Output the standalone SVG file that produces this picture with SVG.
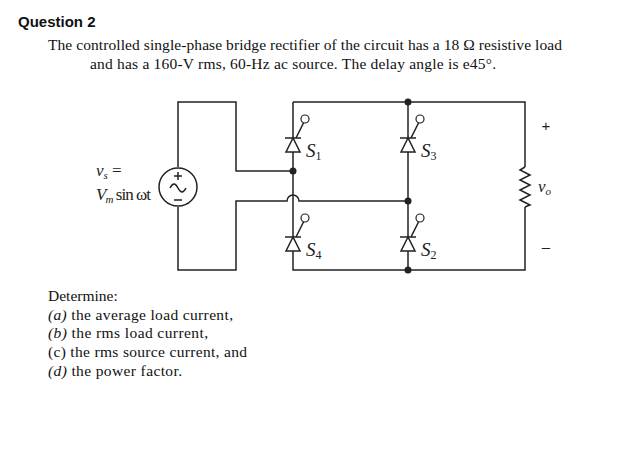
<svg xmlns="http://www.w3.org/2000/svg" width="643" height="464" viewBox="0 0 643 464">
<style>
.w{fill:none;stroke:#222;stroke-width:1.5}
.d{fill:#222}
.t{font-family:"Liberation Serif",serif;font-size:15.5px;fill:#111}
.i{font-family:"Liberation Serif",serif;font-style:italic;fill:#222}
.g{fill:#fff;stroke:#222;stroke-width:1.2}
</style>
<defs>
<g id="scr">
<path class="w" d="M-8,0H8"/>
<path d="M0,0L-7,14H7Z" fill="#fff" stroke="#222" stroke-width="1.5"/>
<path class="w" d="M3,0L11,-16"/>
<circle class="g" cx="12" cy="-19" r="4"/>
</g>
</defs>
<rect width="643" height="464" fill="#fff"/>
<text x="18" y="27" font-family="Liberation Sans,sans-serif" font-weight="bold" font-size="15" fill="#111">Question 2</text>
<text class="t" x="48" y="50" textLength="514">The controlled single-phase bridge rectifier of the circuit has a 18 Ω resistive load</text>
<text class="t" x="90" y="69" textLength="406">and has a 160-V rms, 60-Hz ac source. The delay angle is e45°.</text>
<g id="connectors">
<path class="w" d="M178,167V102H236V171H293"/>
<path class="w" d="M178,207V270H236V201H287A6,6 0 0 1 299,201H408"/>
<path class="w" d="M293,102V270H525V207"/>
<path class="w" d="M293,102H525V167"/>
<path class="w" d="M408,102V270"/>
<path class="w" d="M525,167l-5,3l10,5l-10,5l10,5l-10,5l10,5l-10,5l10,5l-5,2"/>
</g>
<g id="nodes">
<circle class="d" cx="293" cy="171" r="3.5"/>
<circle class="d" cx="408" cy="102" r="3.5"/>
<circle class="d" cx="408" cy="201" r="3.5"/>
<circle class="d" cx="408" cy="270" r="3.5"/>
</g>
<g id="source">
<circle cx="178" cy="187" r="19" fill="#fff" stroke="#222" stroke-width="1.5"/>
<path class="w" d="M178,172v8M174,176h8M174,200h8" stroke-width="1.2"/>
<path class="w" d="M170,188q4,-8 8,0t8,0" stroke-width="1.3"/>
</g>
<g id="S1"><use href="#scr" x="293" y="138"/><text class="i" x="306" y="157" font-size="19">S<tspan font-style="normal" font-size="12" dy="3">1</tspan></text></g>
<g id="S3"><use href="#scr" x="408" y="138"/><text class="i" x="421" y="157" font-size="19">S<tspan font-style="normal" font-size="12" dy="3">3</tspan></text></g>
<g id="S4"><use href="#scr" x="293" y="237"/><text class="i" x="306" y="256" font-size="19">S<tspan font-style="normal" font-size="12" dy="3">4</tspan></text></g>
<g id="S2"><use href="#scr" x="408" y="237"/><text class="i" x="421" y="256" font-size="19">S<tspan font-style="normal" font-size="12" dy="3">2</tspan></text></g>
<text x="546" y="131" font-family="Liberation Sans,sans-serif" font-size="15" fill="#222" text-anchor="middle">+</text>
<text x="546" y="252" font-family="Liberation Sans,sans-serif" font-size="15" fill="#222" text-anchor="middle">–</text>
<text class="i" x="538" y="192" font-size="17">v<tspan font-size="11" dy="3">o</tspan></text>
<text class="i" x="96" y="176" font-size="17">v<tspan font-size="11" dy="3">s</tspan><tspan font-style="normal" dy="-3"> =</tspan></text>
<text class="i" x="96" y="200" font-size="17" textLength="55">V<tspan font-size="11" dy="3">m</tspan><tspan font-style="normal" dy="-3"> sin ωt</tspan></text>
<text class="t" x="48" y="301">Determine:</text>
<text class="t" x="48" y="320" textLength="185"><tspan font-style="italic">(a)</tspan> the average load current,</text>
<text class="t" x="48" y="338" textLength="160"><tspan font-style="italic">(b)</tspan> the rms load current,</text>
<text class="t" x="48" y="357" textLength="199">(c) the rms source current, and</text>
<text class="t" x="48" y="376" textLength="134"><tspan font-style="italic">(d)</tspan> the power factor.</text>
</svg>
